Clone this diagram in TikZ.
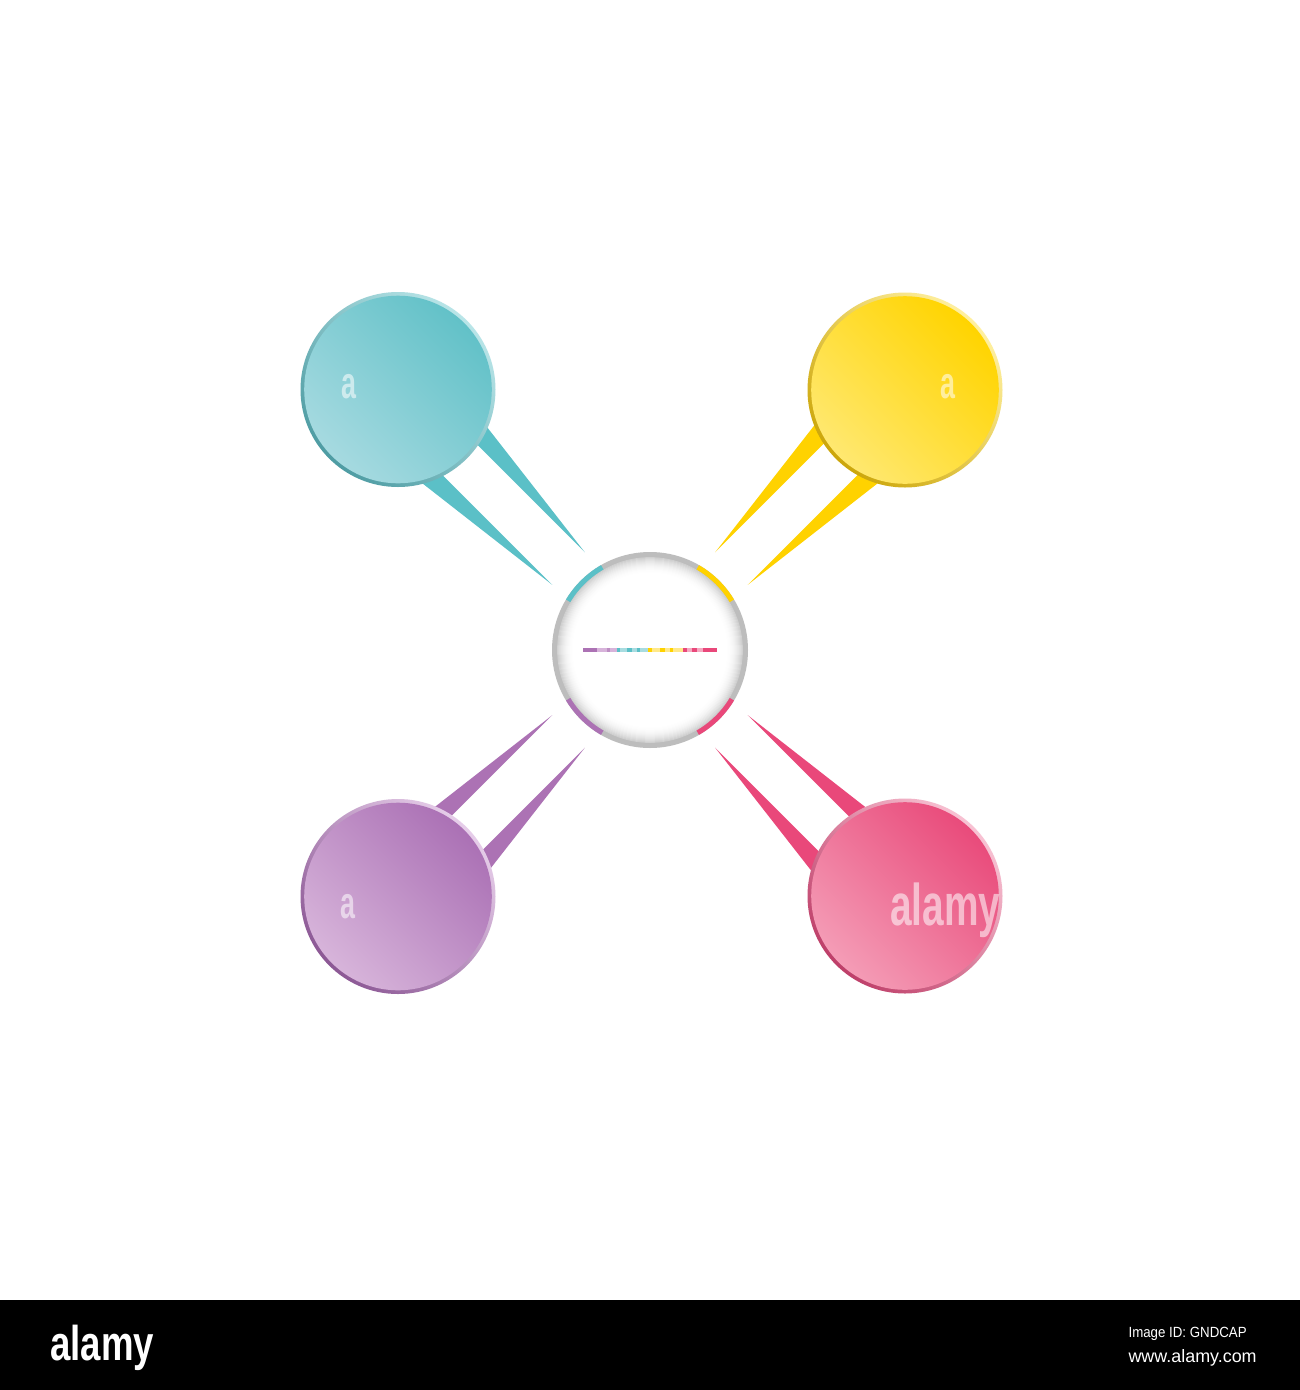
\documentclass[tikz,border=0pt]{standalone}
\usepackage{fontspec}
\setmainfont{Liberation Sans}
\usetikzlibrary{calc}
\definecolor{cteal}{HTML}{5BC0C7}
\definecolor{cyellow}{HTML}{FFD200}
\definecolor{cpurple}{HTML}{AC72B4}
\definecolor{cpink}{HTML}{E9487A}
\definecolor{lteal}{HTML}{A8DCE0}
\definecolor{lyellow}{HTML}{FFE98A}
\definecolor{lpurple}{HTML}{D7B3DA}
\definecolor{lpink}{HTML}{F5A8C0}
% bubble colours: rim light, rim dark, inner dark, inner light
\definecolor{tRimL}{HTML}{B9E5E8}\definecolor{tRimD}{HTML}{4E9CA3}
\definecolor{tIn}{HTML}{62C1C8}\definecolor{tOut}{HTML}{A6DAE0}
\definecolor{yRimL}{HTML}{FFF0A0}\definecolor{yRimD}{HTML}{CCA60A}
\definecolor{yIn}{HTML}{FFD400}\definecolor{yOut}{HTML}{FFE870}
\definecolor{pRimL}{HTML}{E6CDE9}\definecolor{pRimD}{HTML}{8C5895}
\definecolor{pIn}{HTML}{AB71B5}\definecolor{pOut}{HTML}{D7B4DA}
\definecolor{kRimL}{HTML}{F8C2D3}\definecolor{kRimD}{HTML}{BE3F69}
\definecolor{kIn}{HTML}{E94B7B}\definecolor{kOut}{HTML}{F49CB6}
\definecolor{ringgray}{HTML}{BDBDBD}
\tikzset{
  wmark/.style={text=white, text opacity=0.55, inner sep=0pt},
  barseg/.style={line width=0.09cm},
}
% spikes: #1 colour, #2 sx, #3 sy (direction from hub to bubble)
\newcommand\spikepair[3]{%
  \foreach \s in {1,-1}{%
    \fill[#1]
      ($(hub)+({(115*(#2)-23*(\s)*(#3))/sqrt(2)},{(115*(#3)+23*(\s)*(#2))/sqrt(2)})$) --
      ($(hub)+({(300*(#2)-23*(\s)*(#3))/sqrt(2)},{(300*(#3)+23*(\s)*(#2))/sqrt(2)})$) --
      ($(hub)+({(300*(#2)-45.7*(\s)*(#3))/sqrt(2)},{(300*(#3)+45.7*(\s)*(#2))/sqrt(2)})$) -- cycle;
  }}
% bubble: #1 name, #2 rim light, #3 rim dark, #4 inner dark, #5 inner light
\newcommand\bubble[5]{%
  \shade[top color=#2, bottom color=#3, shading angle=-45] (#1) circle (97.5);
  \shade[top color=#4, bottom color=#5, shading angle=-45] (#1) circle (93.8);
}
\begin{document}
\begin{tikzpicture}[x=0.02cm,y=-0.02cm]
\useasboundingbox (0,0) rectangle (1300,1390);
\fill[white] (0,0) rectangle (1300,1390);
\fill[black] (0,1300) rectangle (1300,1390);

\coordinate (hub) at (650,650);
\coordinate (bteal) at (398,389.5);
\coordinate (byellow) at (905,390);
\coordinate (bpurple) at (398,896.5);
\coordinate (bpink) at (905,896);

% spikes (behind the bubbles)
\spikepair{cteal}{-1}{-1}
\spikepair{cyellow}{1}{-1}
\spikepair{cpurple}{-1}{1}
\spikepair{cpink}{1}{1}

% bubbles
\bubble{bteal}{tRimL}{tRimD}{tIn}{tOut}
\bubble{byellow}{yRimL}{yRimD}{yIn}{yOut}
\bubble{bpurple}{pRimL}{pRimD}{pIn}{pOut}
\bubble{bpink}{kRimL}{kRimD}{kIn}{kOut}

% hub with inner glow
\fill[white] (hub) circle (96);
\foreach \i in {0,...,18}{
  \pgfmathsetmacro\g{24*(1-\i/18)*(1-\i/18)}
  \draw[black!\g, line width=0.025cm] (hub) circle ({94-\i});
}
\draw[ringgray, line width=0.1cm] (hub) circle (95.5);
\foreach \a/\c in {211/cteal,300/cyellow,120/cpurple,31/cpink}
  \draw[\c, line width=0.1cm] ($(hub)+(\a:95.5)$) arc[start angle=\a, delta angle=29, radius=95.5];

% central bar
\foreach \xa/\xb/\c in {583.3/596.7/cpurple,596.7/606.7/lpurple,606.7/610/cpurple!80,610/616.7/lpurple,
  616.7/620/cteal,620/627.3/lteal,627.3/631.7/cteal,631.7/636.7/lteal,636.7/640/cteal,640/648.3/lteal,
  648.3/651.7/cyellow,651.7/660/lyellow,660/665/cyellow,665/670/lyellow,670/673.3/cyellow,673.3/683.3/lyellow,
  683.3/686.7/cpink,686.7/691.7/lpink,691.7/696.7/cpink,696.7/703.3/lpink,703.3/716.7/cpink}
  \draw[\c, barseg] ($(hub)+(\xa-650,0)$) -- ($(hub)+(\xb-650,0)$);

% watermark letters
\node[wmark, xscale=0.6, font=\fontsize{25.5pt}{25.5pt}\selectfont\bfseries] (wa1) at (349,387) {a};
\node[wmark, xscale=0.6, font=\fontsize{25.5pt}{25.5pt}\selectfont\bfseries] (wa2) at (948,387) {a};
\node[wmark, xscale=0.6, font=\fontsize{25.5pt}{25.5pt}\selectfont\bfseries] (wa3) at (348,907) {a};
\node[wmark, xscale=0.66, anchor=base west, font=\fontsize{33.5pt}{33.5pt}\selectfont\bfseries] (wa4) at (890,925) {alamy};

% bottom bar texts
\node[text=white, inner sep=0pt, xscale=0.75, anchor=base west, font=\fontsize{27.8pt}{27.8pt}\selectfont\bfseries] (logo) at (50,1360) {alamy};
\node[text=white, inner sep=0pt, xscale=0.9, anchor=base east, font=\fontsize{8.4pt}{8.4pt}\selectfont] (imgid) at (1247,1337) {Image ID: GNDCAP};
\node[text=white, inner sep=0pt, anchor=base east, font=\fontsize{10.2pt}{10.2pt}\selectfont] (www) at (1257,1362) {www.alamy.com};
\end{tikzpicture}
\end{document}
